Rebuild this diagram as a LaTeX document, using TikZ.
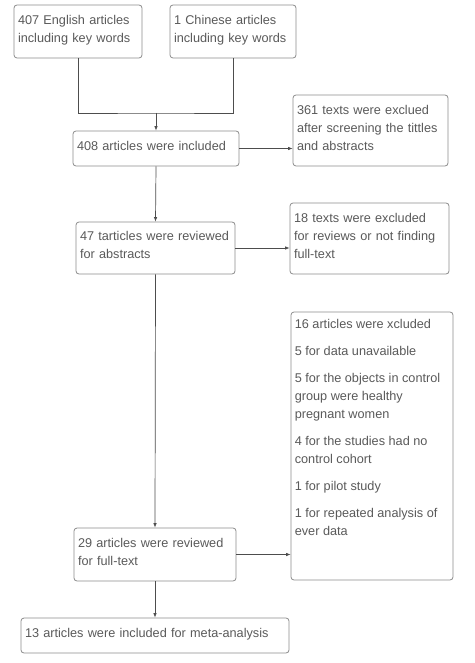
\documentclass[tikz,border=0pt]{standalone}
\usepackage{fontspec}
\setmainfont{Liberation Sans}
\usetikzlibrary{arrows.meta}
\definecolor{txtclr}{HTML}{5A5A5A}
\definecolor{edgeclr}{HTML}{8C8C8C}
\definecolor{lineclr}{HTML}{4D4D4D}
\begin{document}
\begin{tikzpicture}[x=1pt,y=-1pt,
 txt/.style={text=txtclr,font=\fontsize{12.7}{18}\selectfont},
 box/.style={txt,draw=edgeclr,line width=0.8pt,rounded corners=3pt,fill=white,align=left,inner xsep=4pt,inner ysep=0pt,execute at end node={\rule[-6pt]{0pt}{6pt}}},
 conn/.style={draw=lineclr,line width=0.7pt},
 arr/.style={conn,-{Latex[length=4.5pt,width=3.5pt]}}]
\useasboundingbox[fill=white] (0,0) rectangle (474,663);
\node[box,minimum width=128pt,minimum height=53pt,text width=120pt] (b1) at (78,31.5) {407 English articles\\including key words};
\node[box,minimum width=126pt,minimum height=53pt,text width=118pt] (b2) at (233,31.5) {1 Chinese articles\\including key words};
\node[box,minimum width=166pt,minimum height=35pt,text width=158pt] (b3) at (156,148.5) {408 articles were included};
\node[box,minimum width=155pt,minimum height=71pt,text width=147pt] (b4) at (370.5,130.5) {361 texts were exclued\\after screening the tittles\\and abstracts};
\node[box,minimum width=159pt,minimum height=52pt,text width=151pt] (b5) at (155.5,248) {47 tarticles were reviewed\\for abstracts};
\node[box,minimum width=159pt,minimum height=71pt,text width=151pt] (b6) at (369.5,238.5) {18 texts were excluded\\for reviews or not finding\\full-text};
\node[box,minimum width=162pt,minimum height=268pt] (b7) at (372,446) {};
\node[txt,anchor=north west,align=left,inner sep=0pt,xshift=4pt,yshift=-7pt] (b7t) at (b7.north west) {\rule{0pt}{10pt}16 articles were xcluded\\[9pt]5 for data unavailable\\[9pt]5 for the objects in control\\group were healthy\\pregnant women\\[9pt]4 for the studies had no\\control cohort\\[9pt]1 for pilot study\\[9pt]1 for repeated analysis of\\ever data};
\node[box,minimum width=162pt,minimum height=53pt,text width=154pt] (b8) at (155,554.5) {29 articles were reviewed\\for full-text};
\node[box,minimum width=268pt,minimum height=35pt,text width=260pt] (b9) at (155,635.5) {13 articles were included for meta-analysis};
\coordinate (j) at (b3.north |- 0,113);
\draw[conn] (b1.south) |- (j) -| (b2.south);
\draw[arr] (j) -- (b3.north);
\draw[arr] (b3.east) -- (b3.east -| b4.west);
\draw[arr] (b3.south) -- (b5.north);
\draw[arr] (b5.east) -- (b5.east -| b6.west);
\draw[arr] (b5.south) -- (b8.north);
\draw[arr] (b8.east) -- (b8.east -| b7.west);
\draw[arr] (b8.south) -- (b9.north);
\end{tikzpicture}
\end{document}
